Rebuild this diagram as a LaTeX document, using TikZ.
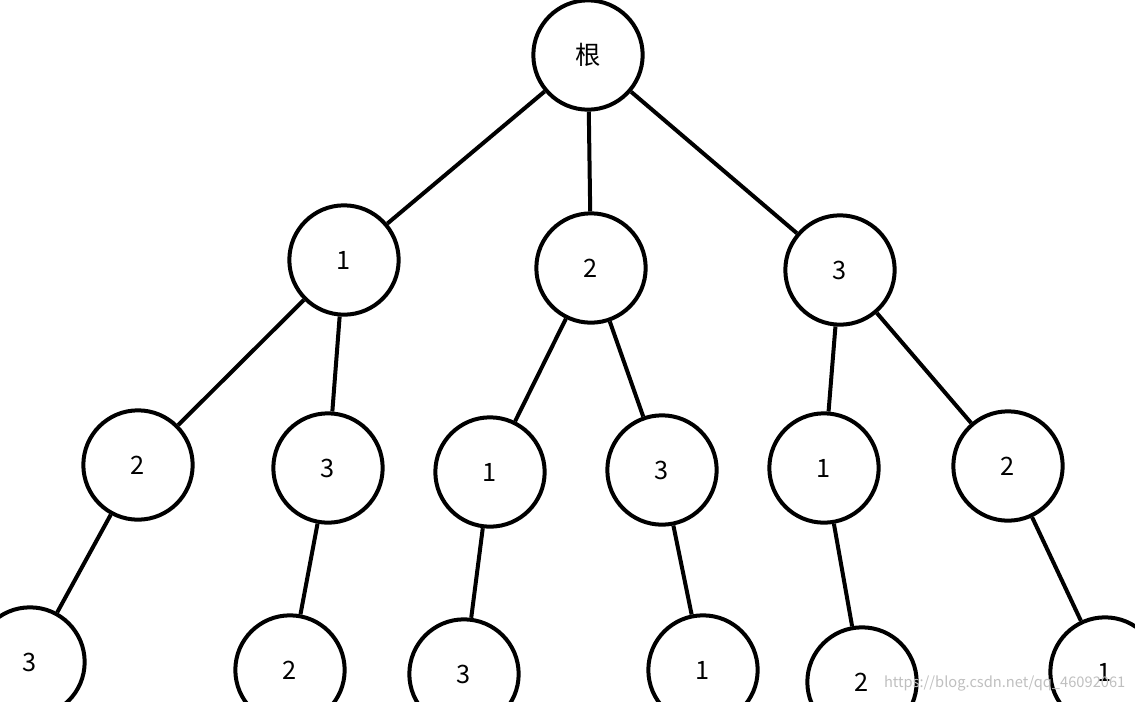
\documentclass[tikz,border=0pt]{standalone}
\usepackage{fontspec}
\setmainfont{Noto Sans CJK SC}
\begin{document}
\begin{tikzpicture}[x = {(0.75pt, 0pt)}, y = {(0pt, -0.75pt)},
  vertex/.style = {circle, draw, line width = 3pt, minimum size = 82pt,
    inner sep = 0pt, font = \fontsize{19}{22}\selectfont},
  edge/.style = {line width = 3pt}]
  \useasboundingbox (0, 0) rectangle (1135, 701);
  \clip (0, 0) rectangle (1135, 701);

  \node[vertex] (r) at (588, 55) {根};

  \node[vertex] (a1) at (344, 260) {1};
  \draw[edge] (r) -- (a1);
  \node[vertex] (a2) at (591, 268) {2};
  \draw[edge] (r) -- (a2);
  \node[vertex] (a3) at (840, 270) {3};
  \draw[edge] (r) -- (a3);

  \node[vertex] (b1) at (138, 465) {2};
  \draw[edge] (a1) -- (b1);
  \node[vertex] (b2) at (328, 468) {3};
  \draw[edge] (a1) -- (b2);
  \node[vertex] (b3) at (490, 472) {1};
  \draw[edge] (a2) -- (b3);
  \node[vertex] (b4) at (662, 470) {3};
  \draw[edge] (a2) -- (b4);
  \node[vertex] (b5) at (824, 468) {1};
  \draw[edge] (a3) -- (b5);
  \node[vertex] (b6) at (1008, 466) {2};
  \draw[edge] (a3) -- (b6);

  \node[vertex] (c1) at (30, 662) {3};
  \draw[edge] (b1) -- (c1);
  \node[vertex] (c2) at (290, 670) {2};
  \draw[edge] (b2) -- (c2);
  \node[vertex] (c3) at (464, 674) {3};
  \draw[edge] (b3) -- (c3);
  \node[vertex] (c4) at (703, 670) {1};
  \draw[edge] (b4) -- (c4);
  \node[vertex] (c5) at (862, 682) {2};
  \draw[edge] (b5) -- (c5);
  \node[vertex] (c6) at (1105, 672) {1};
  \draw[edge] (b6) -- (c6);

  \node[text = black!25, font = \fontsize{11}{13}\selectfont, anchor = east] (wm)
    at (1130, 683) {https://blog.csdn.net/qq\_46092061};
\end{tikzpicture}
\end{document}
